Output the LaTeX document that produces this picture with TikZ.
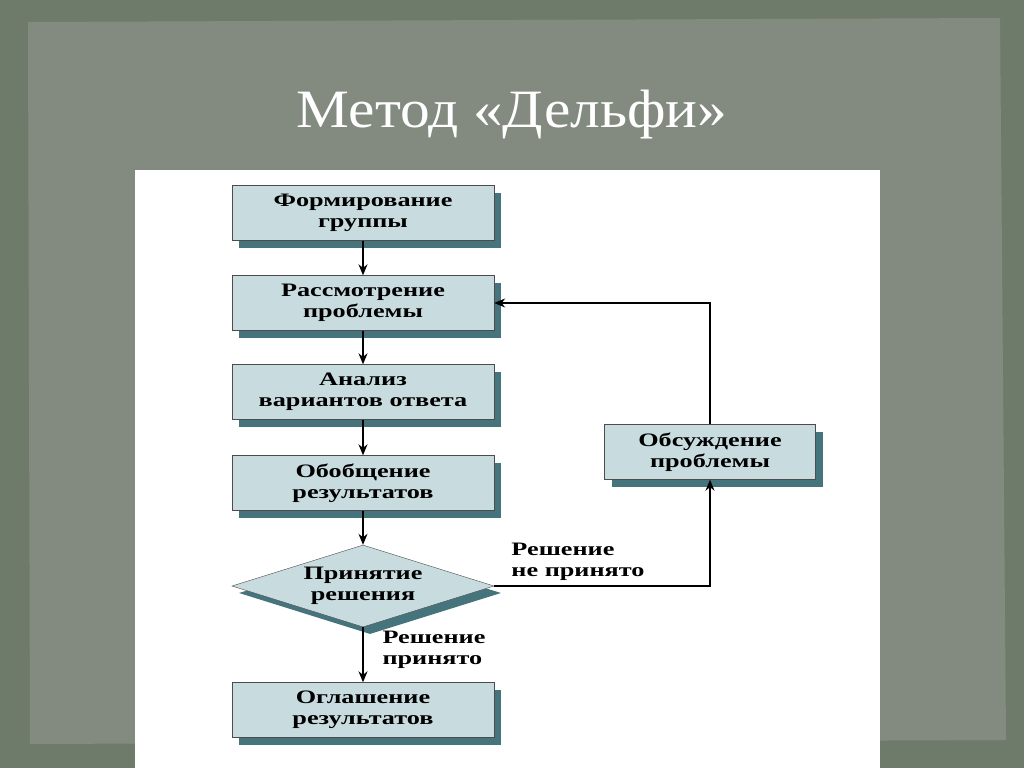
\documentclass[tikz,border=0pt]{standalone}
\usepackage{fontspec}
\setmainfont{Liberation Serif}
\newfontfamily\wide[FakeStretch=1.38]{Liberation Serif}
\newfontfamily\titlefont[FakeStretch=1.1]{Liberation Serif}
\usetikzlibrary{shapes.geometric,arrows.meta}
\definecolor{bgdark}{HTML}{6E7A6A}
\definecolor{panel}{HTML}{838B80}
\definecolor{boxfill}{HTML}{C8DCE0}
\definecolor{shad}{HTML}{46747C}
\begin{document}
\begin{tikzpicture}[x=1pt,y=-1pt,
  txt/.style={font=\wide\fontsize{19}{21}\selectfont\bfseries},
  box/.style={txt,draw=black!70,fill=boxfill,minimum width=262pt,minimum height=55pt,align=center,inner sep=0pt,
    preaction={fill=shad,transform canvas={shift={(7pt,-7pt)}}}},
  dia/.style={txt,diamond,aspect=2.9,draw=black!70,fill=boxfill,minimum width=262pt,minimum height=82pt,align=center,inner sep=0pt,
    preaction={fill=shad,transform canvas={shift={(7pt,-7pt)}}}},
  arr/.style={-{Stealth[length=11pt,width=9pt]},line width=1.1pt},
  lbl/.style={txt,align=left}]
\useasboundingbox (0,0) rectangle (1024,768);
\fill[bgdark] (0,0) rectangle (1024,768);
\fill[panel] (28,22) -- (1000,18) -- (1006,740) -- (30,744) -- cycle;
\node[text=white,font=\titlefont\fontsize{54}{56}\selectfont] (title) at (512,115) {Метод «Дельфи»};
\fill[white] (135,170) rectangle (880,768);
\node[box] (b1) at (363,213) {Формирование\\группы};
\node[box] (b2) at (363,303) {Рассмотрение\\проблемы};
\node[box] (b3) at (363,392) {Анализ\\вариантов ответа};
\node[box] (b4) at (363,483) {Обобщение\\результатов};
\node[dia] (d) at (363,586) {Принятие\\решения};
\node[box] (b5) at (363,710) {Оглашение\\результатов};
\node[box,minimum width=211pt] (r) at (710,452) {Обсуждение\\проблемы};
\draw[arr] (b1) -- (b2);
\draw[arr] (b2) -- (b3);
\draw[arr] (b3) -- (b4);
\draw[arr] (b4) -- (d.north);
\draw[arr] (d.south) -- (b5);
\draw[arr] (d.east) -| (r.south);
\draw[arr] (r.north) |- (b2.east);
\node[lbl] (l1) at (578,562) {Решение\\не принято};
\node[lbl] (l2) at (434,650) {Решение\\принято};
\end{tikzpicture}
\end{document}
